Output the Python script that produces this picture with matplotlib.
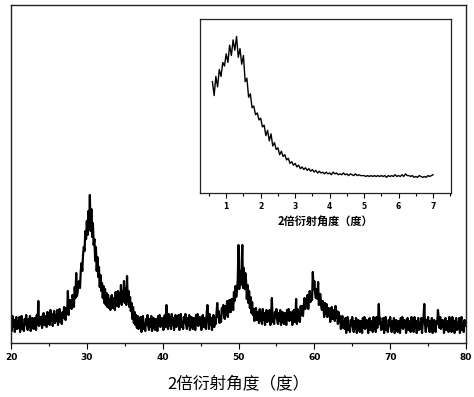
import numpy as np
import matplotlib
matplotlib.use("Agg")
import matplotlib.pyplot as plt
from matplotlib.ticker import MultipleLocator

plt.rcParams["font.family"] = ["Noto Sans CJK SC", "DejaVu Sans"]

# ---------------- main XRD pattern (2theta 20-80, step 0.1) ----------------
two_theta = np.round(np.arange(20.0, 80.05, 0.1), 1)
intensity = [
    24, 12, 27, 16, 23, 11, 20, 26, 14, 22,   # 20
    15, 26, 11, 22, 27, 14, 19, 12, 24, 18,   # 21
    28, 17, 13, 24, 16, 27, 12, 23, 25, 15,   # 22
    14, 25, 22, 13, 28, 18, 42, 17, 20, 26,   # 23
    26, 15, 28, 30, 18, 22, 27, 16, 31, 19,   # 24
    30, 18, 33, 22, 29, 17, 26, 32, 20, 28,   # 25
    22, 33, 18, 29, 34, 21, 26, 19, 31, 25,   # 26
    36, 26, 23, 35, 29, 52, 28, 40, 43, 35,   # 27
    34, 48, 45, 36, 56, 45, 70, 47, 52, 61,   # 28
    62, 55, 72, 80, 72, 88, 96, 92, 112, 104, # 29
    122, 108, 132, 114, 148, 112, 134, 106, 120, 98,  # 30
    104, 82, 96, 72, 86, 66, 76, 56, 68, 52,  # 31
    60, 45, 57, 40, 54, 38, 50, 36, 48, 35,   # 32
    44, 33, 46, 48, 35, 40, 45, 33, 51, 37,   # 33
    38, 52, 36, 50, 40, 58, 38, 52, 42, 62,   # 34
    40, 55, 38, 67, 41, 52, 36, 46, 32, 40,   # 35
    24, 36, 20, 31, 18, 28, 15, 27, 14, 25,   # 36
    15, 26, 11, 22, 27, 14, 19, 12, 24, 18,   # 37
    28, 17, 13, 24, 16, 27, 12, 23, 25, 15,   # 38
    13, 24, 21, 12, 27, 17, 28, 16, 19, 25,   # 39
    24, 13, 26, 28, 16, 38, 25, 14, 29, 17,   # 40
    26, 14, 29, 18, 25, 13, 22, 28, 16, 24,   # 41
    17, 28, 13, 24, 29, 16, 21, 14, 26, 20,   # 42
    29, 18, 14, 25, 17, 28, 13, 24, 26, 16,   # 43
    14, 25, 22, 13, 28, 18, 29, 17, 20, 26,   # 44
    24, 13, 26, 28, 16, 20, 25, 14, 29, 38,   # 45
    26, 14, 29, 18, 25, 13, 22, 28, 16, 24,   # 46
    19, 29, 40, 26, 32, 20, 27, 21, 35, 31,   # 47
    38, 26, 24, 37, 28, 42, 26, 40, 43, 31,   # 48
    31, 44, 41, 33, 51, 42, 57, 46, 52, 63,   # 49
    98, 54, 72, 58, 74, 98, 55, 75, 54, 70,   # 50
    62, 44, 58, 40, 52, 35, 46, 30, 41, 28,   # 51
    34, 22, 34, 35, 23, 26, 31, 20, 34, 22,   # 52
    31, 19, 34, 23, 30, 18, 27, 33, 21, 29,   # 53
    22, 33, 18, 29, 45, 21, 26, 19, 31, 25,   # 54
    34, 23, 19, 30, 22, 33, 18, 29, 31, 21,   # 55
    19, 30, 27, 18, 33, 23, 34, 22, 25, 31,   # 56
    29, 18, 31, 33, 21, 25, 44, 19, 34, 22,   # 57
    32, 21, 37, 28, 37, 27, 37, 45, 34, 43,   # 58
    36, 48, 34, 46, 52, 41, 48, 43, 71, 53,   # 59
    62, 50, 45, 54, 44, 61, 38, 48, 49, 37,   # 60
    33, 42, 37, 26, 40, 29, 39, 26, 29, 35,   # 61
    32, 21, 34, 36, 24, 28, 33, 22, 37, 25,   # 62
    32, 19, 31, 21, 27, 14, 22, 27, 15, 22,   # 63
    14, 25, 10, 21, 26, 13, 18, 11, 23, 17,   # 64
    26, 15, 11, 22, 14, 25, 10, 21, 23, 13,   # 65
    11, 22, 19, 10, 25, 15, 26, 14, 17, 23,   # 66
    21, 10, 23, 25, 13, 17, 22, 11, 26, 14,   # 67
    23, 11, 26, 15, 22, 39, 19, 25, 13, 21,   # 68
    14, 25, 10, 21, 26, 13, 18, 11, 23, 17,   # 69
    26, 15, 11, 22, 14, 25, 10, 21, 23, 13,   # 70
    11, 22, 19, 10, 25, 15, 26, 14, 17, 23,   # 71
    21, 10, 23, 25, 13, 17, 22, 11, 26, 14,   # 72
    23, 11, 26, 15, 22, 10, 19, 25, 13, 21,   # 73
    14, 25, 10, 21, 26, 39, 18, 11, 23, 17,   # 74
    26, 15, 11, 22, 14, 25, 10, 21, 23, 13,   # 75
    11, 22, 19, 33, 25, 15, 26, 14, 17, 23,   # 76
    21, 10, 23, 25, 13, 17, 22, 11, 26, 14,   # 77
    23, 11, 26, 15, 22, 10, 19, 25, 13, 21,   # 78
    14, 25, 10, 21, 26, 13, 18, 11, 23, 17,   # 79
    20,                                       # 80
]

# ---------------- small-angle inset (2theta 0.6-7, step 0.05) ----------------
two_theta_low = np.round(np.arange(0.6, 7.001, 0.05), 2)
intensity_low = [
    64, 56, 67, 61, 71, 67, 75, 73,                       # 0.60-0.95
    80, 75, 85, 79, 88, 82, 90, 78, 83, 74,               # 1.00
    79, 64, 66, 55, 57, 49, 50, 45, 46, 42,               # 1.50
    43, 38, 39, 33, 36, 30, 34, 27, 29, 25,               # 2.00
    26, 22, 24, 21, 22, 19, 20, 17, 18, 16,               # 2.50
    17, 15, 16, 14, 15, 13.5, 14.5, 13, 14, 12.5,         # 3.00
    13.5, 12, 13, 11.5, 12.5, 11.5, 12, 11, 12, 11,       # 3.50
    11.5, 10.5, 12, 11, 11.5, 10.5, 11, 10.5, 11.5, 10.5, # 4.00
    11, 10, 11, 10.5, 10, 11, 10, 10.5, 10, 10,           # 4.50
    10, 9.5, 10, 9.5, 10, 9.5, 10, 9.5, 10, 9.5,          # 5.00
    10, 9.5, 10, 9, 10, 9.5, 10, 9.5, 10.5, 9.5,          # 5.50
    10, 9.5, 10.5, 9.5, 11, 10, 10, 9.5, 10, 9,           # 6.00
    9.5, 9, 10, 9.5, 9, 9.5, 9, 10, 9.5, 10,              # 6.50
    10.5,                                                 # 7.00
]

XLABEL = "2倍衍射角度（度）"

fig = plt.figure(figsize=(4.74, 3.97), dpi=100)

# main axes
ax = fig.add_axes([11 / 474, 54 / 397, 455 / 474, 338 / 397])
ax.plot(two_theta, intensity, color="black", linewidth=1.6)
ax.set_xlim(20, 80)
ax.set_ylim(0, 338)
ax.xaxis.set_major_locator(MultipleLocator(10))
ax.xaxis.set_minor_locator(MultipleLocator(5))
ax.set_yticks([])
ax.tick_params(axis="x", which="major", direction="out", length=4.5, width=0.8, pad=3)
ax.tick_params(axis="x", which="minor", direction="out", length=2.5, width=0.8)
for lab in ax.get_xticklabels():
    lab.set_fontsize(6.5)
    lab.set_fontweight("bold")
    lab.set_family("DejaVu Sans")
for sp in ax.spines.values():
    sp.set_linewidth(1.0)
    sp.set_color("#222222")
ax.set_xlabel(XLABEL, fontsize=12, labelpad=9)

# inset
axi = fig.add_axes([200 / 474, 204 / 397, 251 / 474, 174 / 397])
axi.plot(two_theta_low, intensity_low, color="black", linewidth=1.0)
axi.set_xlim(0.24, 7.52)
axi.set_ylim(0, 100)
axi.xaxis.set_major_locator(MultipleLocator(1))
axi.xaxis.set_minor_locator(MultipleLocator(0.5))
axi.set_yticks([])
axi.tick_params(axis="x", which="major", direction="out", length=3.5, width=0.8, pad=3)
axi.tick_params(axis="x", which="minor", direction="out", length=2.5, width=0.8)
for lab in axi.get_xticklabels():
    lab.set_fontsize(5.5)
    lab.set_fontweight("bold")
    lab.set_family("DejaVu Sans")
for sp in axi.spines.values():
    sp.set_linewidth(0.9)
    sp.set_color("#222222")
axi.set_xlabel(XLABEL, fontsize=8, fontweight="bold", labelpad=3)

fig.savefig("out.png", dpi=100)
